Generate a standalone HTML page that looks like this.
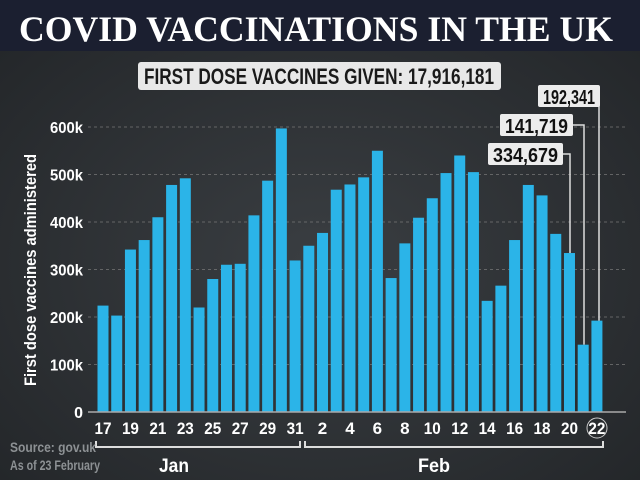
<!DOCTYPE html>
<html><head><meta charset="utf-8"><style>
html,body{margin:0;padding:0;background:#2b2e31;}
svg{display:block;}
text{font-family:"Liberation Sans Narrow","Liberation Sans",sans-serif;font-weight:bold;}
</style></head><body>
<svg id="chart" width="640" height="480" viewBox="0 0 640 480">
<defs>
<radialGradient id="bg" cx="50%" cy="55%" r="70%"><stop offset="0" stop-color="#3a3e42"/><stop offset="1" stop-color="#232629"/></radialGradient>
</defs>
<rect x="0" y="0" width="640" height="480" fill="url(#bg)"/>
<rect x="0" y="0" width="640" height="51" fill="#1b1f30"/>
<text x="316" y="41" fill="#fff" font-size="36" text-anchor="middle" textLength="594" lengthAdjust="spacingAndGlyphs" style="font-family:'Liberation Serif',serif;font-weight:bold">COVID VACCINATIONS IN THE UK</text>
<rect x="138" y="62" width="363" height="28" rx="3" fill="#e8e8e8"/>
<text x="319" y="84" fill="#1a1a1a" font-size="22" text-anchor="middle" textLength="350" lengthAdjust="spacingAndGlyphs">FIRST DOSE VACCINES GIVEN: 17,916,181</text>
<text transform="translate(36,270) rotate(-90)" fill="#fff" font-size="17" text-anchor="middle" textLength="232" lengthAdjust="spacingAndGlyphs">First dose vaccines administered</text>
<g id="grid"></g><g id="bars"></g><g id="xt"></g><g id="ann"></g>
<line x1="88" y1="412" x2="626" y2="412" stroke="#aaa" stroke-width="1.5"/>
<path d="M96,441 V447 H300 V441" fill="none" stroke="#ddd" stroke-width="2"/>
<path d="M305,441 V447 H603 V441" fill="none" stroke="#ddd" stroke-width="2"/>
<text x="174" y="472" fill="#fff" font-size="19" text-anchor="middle" textLength="30" lengthAdjust="spacingAndGlyphs">Jan</text>
<text x="434" y="472" fill="#fff" font-size="19" text-anchor="middle" textLength="32" lengthAdjust="spacingAndGlyphs">Feb</text>
<text x="10" y="452" fill="#8d9194" font-size="14" textLength="86" lengthAdjust="spacingAndGlyphs">Source: gov.uk</text>
<text x="10" y="470" fill="#8d9194" font-size="14" textLength="90" lengthAdjust="spacingAndGlyphs">As of 23 February</text>
<circle cx="597" cy="428" r="10" fill="none" stroke="#ccc" stroke-width="1"/>
</svg>
<script>
const days=[17,18,19,20,21,22,23,24,25,26,27,28,29,30,31,1,2,3,4,5,6,7,8,9,10,11,12,13,14,15,16,17,18,19,20,21,22];
const values=[224,203,342,362,410,478,492,220,280,310,312,414,487,597,319,350,377,468,479,494,550,282,355,409,450,503,540,505,234,266,362,478,456,375,334.679,141.719,192.341];
const yTicks=[0,100,200,300,400,500,600];
const yTickLabels=["0","100k","200k","300k","400k","500k","600k"];
const labelIdx=[34,35,36];
const labelText=["334,679","141,719","192,341"];
const NS="http://www.w3.org/2000/svg";
function y(v){return 412-v*0.475;}
function xc(i){return 103+i*13.72;}
function mk(t,a,p){const e=document.createElementNS(NS,t);for(const k in a)e.setAttribute(k,a[k]);p.appendChild(e);return e;}
const grid=document.getElementById('grid');
yTicks.forEach((t,i)=>{
 if(t>0){const l=mk('line',{x1:88,x2:626,y1:y(t),y2:y(t),stroke:'#777','stroke-dasharray':'3,3','stroke-width':0.8},grid);
 
 }
 const a={x:83,y:y(t)+6,fill:'#fff','font-size':16,'text-anchor':'end'};
 if(t>0){a.textLength=33;a.lengthAdjust='spacingAndGlyphs';}
 const tx=mk('text',a,grid);tx.textContent=yTickLabels[i];
 
 
});
const bars=document.getElementById('bars');
values.forEach((v,i)=>{
 const r=mk('rect',{x:xc(i)-5.5,y:y(v),width:11,height:412-y(v),fill:'#2bb4e8'},bars);
 
 
});
const xt=document.getElementById('xt');
days.forEach((d,i)=>{ if(i%2===0){
 const a={x:xc(i),y:434,fill:'#fff','font-size':17,'text-anchor':'middle'};
 if(d>=10){a.textLength=17;a.lengthAdjust='spacingAndGlyphs';}
 const t=mk('text',a,xt);t.textContent=d;
 
 }});
const ann=document.getElementById('ann');
const boxes=[{x:488,y:143,w:75},{x:500,y:114,w:73},{x:538,y:85,w:62}];
const lx=[570,584,599];
labelIdx.forEach((idx,k)=>{
 const b=boxes[k];
 const p=mk('path',{d:`M${b.x+b.w},${b.y+11} H${lx[k]} V${y(values[idx])}`,fill:'none',stroke:'#ddd','stroke-width':1.5},ann);
 
 
 const r=mk('rect',{x:b.x,y:b.y,width:b.w,height:22,rx:2,fill:'#ececec'},ann);
 
 
 const t=mk('text',{x:b.x+b.w/2,y:b.y+19,fill:'#111','font-size':20,'text-anchor':'middle',textLength:b.w-10,lengthAdjust:'spacingAndGlyphs'},ann);t.textContent=labelText[k];
 
 
});
</script>
</body></html>
